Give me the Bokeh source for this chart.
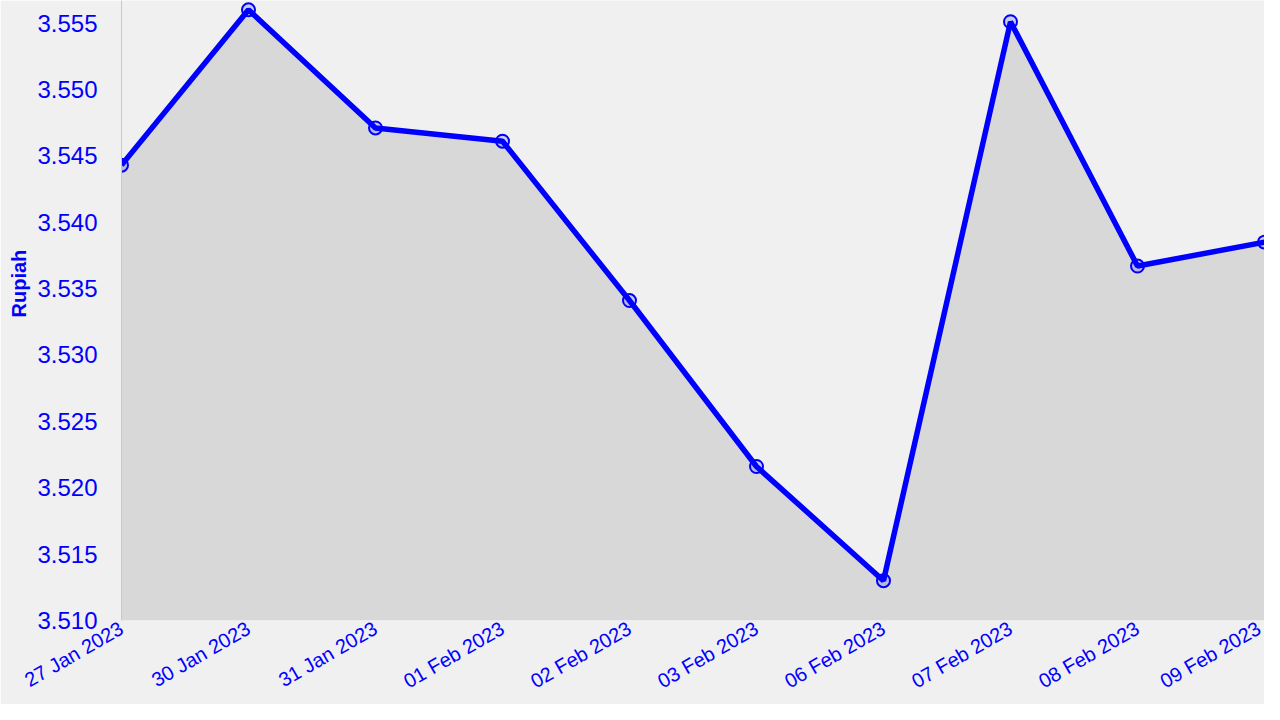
from bokeh.plotting import figure
from bokeh.models import Range1d, FixedTicker, ColumnDataSource, Title
from bokeh.embed import file_html
from bokeh.resources import INLINE
import math

dates = ["27 Jan 2023", "30 Jan 2023", "31 Jan 2023", "01 Feb 2023", "02 Feb 2023",
         "03 Feb 2023", "06 Feb 2023", "07 Feb 2023", "08 Feb 2023", "09 Feb 2023"]
rupiah = [3.5443, 3.5560, 3.5471, 3.5461, 3.5341, 3.5216, 3.5130, 3.5551, 3.5367, 3.5385]
y_ticks = [3.510, 3.515, 3.520, 3.525, 3.530, 3.535, 3.540, 3.545, 3.550, 3.555]
y_min = 3.510
y_max = 3.5567

idx = list(range(len(dates)))
src = ColumnDataSource(dict(x=idx, y=rupiah, base=[y_min] * len(idx), label=dates))

BG = "#f0f0f0"
BLUE = "#0000ff"
FONT = "Liberation Sans"

p = figure(width=1264, height=704, output_backend="svg", toolbar_location=None,
           x_range=Range1d(0, len(dates) - 1), y_range=Range1d(y_min, y_max),
           min_border_left=121, min_border_right=0, min_border_top=0, min_border_bottom=84)
p.background_fill_color = BG
p.border_fill_color = BG
p.outline_line_color = None
p.xgrid.visible = False
p.ygrid.visible = False

p.varea(x="x", y1="base", y2="y", source=src, fill_color="#d8d8d8")
p.line(x="x", y="y", source=src, line_color=BLUE, line_width=5.5)
p.scatter(x="x", y="y", source=src, size=13, line_color=BLUE, line_width=2,
          fill_color=BLUE, fill_alpha=0.15)

xa = p.xaxis[0]
xa.ticker = FixedTicker(ticks=idx)
xa.major_label_overrides = {i: d for i, d in zip(idx, dates)}
xa.major_label_orientation = math.pi / 6
xa.axis_line_color = None
xa.major_tick_line_color = None
xa.major_tick_out = 0
xa.major_tick_in = 0
xa.minor_tick_line_color = None
xa.major_label_text_color = BLUE
xa.major_label_text_font = FONT
xa.major_label_text_font_size = "20px"
xa.major_label_standoff = 6

ya = p.yaxis[0]
ya.ticker = FixedTicker(ticks=y_ticks)
ya.major_label_overrides = {t: f"{t:.3f}" for t in y_ticks}
ya.axis_line_color = "#c8c8c8"
ya.major_tick_line_color = None
ya.major_tick_out = 0
ya.major_tick_in = 0
ya.minor_tick_line_color = None
ya.major_label_text_color = BLUE
ya.major_label_text_font = FONT
ya.major_label_text_font_size = "24px"
ya.major_label_standoff = 24

p.add_layout(Title(text="Rupiah", align="left", offset=303, text_color=BLUE,
                   text_font=FONT, text_font_size="20px", text_font_style="bold",
                   standoff=10), "left")

open("out.html", "w").write(file_html(p, INLINE))
